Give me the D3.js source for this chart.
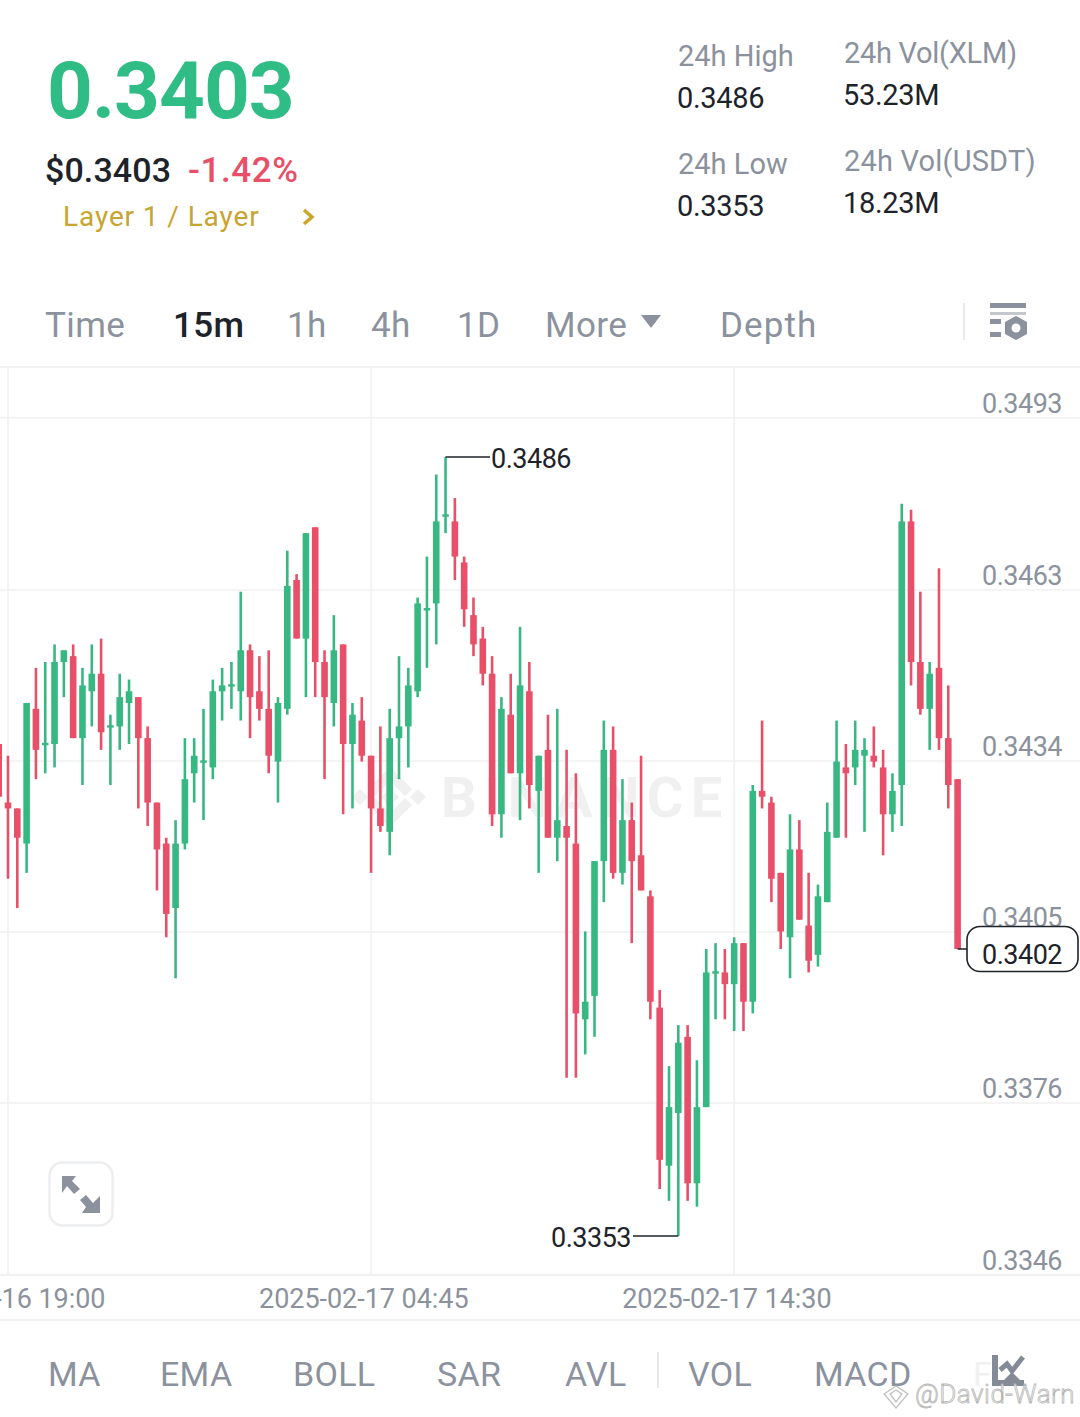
<!DOCTYPE html>
<html>
<head>
<meta charset="utf-8">
<script src="https://cdn.jsdelivr.net/npm/d3@7/dist/d3.min.js"></script>
<style>
html,body{margin:0;padding:0;background:#fff;}
svg{display:block;}
text{font-family:Roboto,"Noto Sans",sans-serif;}
</style>
</head>
<body>
<div id="chart"></div>
<script>
// candle values, oldest first
const opens = [.3437,.3427,.3426,.3420,.3443,.3437,.3437,.3451,.3452,.3438,.3446,.3449,.3440,.3440,.3444,.3445,.3438,.3427,.3420,.3409,.3420,.3432,.3434,.3433,.3446,.3447,.3446,.3453,.3446,.3443,.3434,.3443,.3465,.3455,.3474,.3451,.3444,.3454,.3437,.3441,.3435,.3426,.3422,.3438,.3440,.3446,.3460,.3461,.3476,.3475,.3468,.3459,.3455,.3449,.3425,.3442,.3432,.3446,.3429,.3436,.3421,.3423,.3420,.3390,.3394,.3417,.3436,.3415,.3424,.3418,.3411,.3392,.3365,.3374,.3387,.3362,.3375,.3398,.3398,.3396,.3403,.3393,.3429,.3427,.3415,.3404,.3419,.3406,.3401,.3410,.3421,.3433,.3433,.3435,.3435,.3433,.3425,.3430,.3475,.3451,.3443,.3450,.3438,.3431];
const highs = [.3442,.3435,.3426,.3444,.3450,.3451,.3454,.3453,.3454,.3450,.3454,.3455,.3442,.3449,.3448,.3445,.3440,.3427,.3421,.3424,.3438,.3438,.3443,.3448,.3450,.3451,.3463,.3454,.3452,.3453,.3445,.3470,.3466,.3473,.3474,.3453,.3459,.3454,.3444,.3445,.3435,.3440,.3443,.3452,.3450,.3462,.3469,.3483,.3486,.3479,.3469,.3462,.3457,.3452,.3445,.3449,.3457,.3451,.3435,.3442,.3443,.3436,.3432,.3405,.3417,.3441,.3440,.3431,.3427,.3435,.3412,.3395,.3382,.3389,.3389,.3383,.3402,.3403,.3402,.3404,.3403,.3430,.3441,.3428,.3415,.3425,.3424,.3415,.3413,.3427,.3441,.3437,.3441,.3438,.3440,.3436,.3432,.3478,.3477,.3463,.3451,.3467,.3447,.3431];
const lows = [.3422,.3414,.3409,.3415,.3431,.3432,.3433,.3445,.3438,.3430,.3440,.3436,.3430,.3436,.3437,.3426,.3423,.3412,.3404,.3397,.3419,.3427,.3424,.3431,.3441,.3443,.3441,.3438,.3441,.3432,.3427,.3442,.3455,.3445,.3445,.3431,.3440,.3425,.3426,.3434,.3415,.3422,.3418,.3431,.3433,.3445,.3450,.3454,.3473,.3465,.3457,.3452,.3447,.3423,.3421,.3432,.3424,.3426,.3415,.3421,.3417,.3380,.3380,.3384,.3387,.3410,.3414,.3413,.3403,.3412,.3390,.3361,.3359,.3353,.3359,.3358,.3375,.3390,.3390,.3388,.3388,.3391,.3426,.3410,.3402,.3397,.3407,.3398,.3399,.3410,.3421,.3421,.3430,.3422,.3433,.3418,.3422,.3423,.3447,.3442,.3436,.3436,.3426,.3402];
const closes = [.3428,.3426,.3421,.3444,.3436,.3437,.3451,.3453,.3438,.3447,.3449,.3439,.3440,.3445,.3446,.3438,.3427,.3419,.3408,.3420,.3431,.3435,.3434,.3446,.3447,.3447,.3453,.3445,.3443,.3435,.3444,.3464,.3455,.3473,.3451,.3445,.3453,.3437,.3442,.3435,.3426,.3423,.3438,.3440,.3447,.3461,.3460,.3475,.3476,.3469,.3460,.3454,.3449,.3425,.3443,.3432,.3447,.3430,.3435,.3421,.3424,.3421,.3391,.3393,.3417,.3436,.3415,.3424,.3417,.3412,.3393,.3366,.3375,.3386,.3362,.3375,.3398,.3398,.3396,.3403,.3393,.3429,.3428,.3414,.3405,.3419,.3407,.3400,.3411,.3422,.3434,.3432,.3436,.3436,.3434,.3425,.3429,.3475,.3451,.3443,.3449,.3438,.3430,.3402];
const rising = [0,0,0,1,0,1,1,1,0,1,1,0,1,1,1,0,0,0,0,1,1,1,1,1,1,1,1,0,0,0,1,1,0,1,0,0,1,0,1,0,0,0,1,1,1,1,1,1,1,0,0,0,0,0,1,0,1,0,1,0,1,0,0,1,1,1,0,1,0,0,0,0,1,1,0,1,1,1,0,1,0,1,0,0,0,1,0,0,1,1,1,0,1,1,0,0,1,1,0,0,1,0,0,0];

const priceTicks = [.34927,.34633,.34341,.34049,.33757,.33464];
const timeTicks = [1,40,79];
const timeLabels = ["2025-02-16 19:00","2025-02-17 04:45","2025-02-17 14:30"];
const indicatorTabs = ["MA","EMA","BOLL","SAR","AVL","VOL","MACD"];
const indicatorX = [48,160,293,437,565,688,814];
const periodTabs = ["Time","15m","1h","4h","1D","More","Depth"];
const periodX = [45,173,287,371,457,545,720];
const stats = [
 {k:"24h High",v:"0.3486",x:678,a:66,b:108},
 {k:"24h Vol(XLM)",v:"53.23M",x:844,a:63,b:105},
 {k:"24h Low",v:"0.3353",x:678,a:174,b:216},
 {k:"24h Vol(USDT)",v:"18.23M",x:844,a:171,b:213}
];
const lastTick = "0.3402", highMark = .3486, lowMark = .3353, highIdx = 48, lowIdx = 73, lastPrice = .3402;

const GREEN="#37b883", RED="#e84f68", GRID="#f1f1f2", MUTED="#8b929d", DARK="#1e2329";

const svg = d3.select("#chart").append("svg").attr("width",1080).attr("height",1417).attr("viewBox","0 0 1080 1417");
const x = d3.scaleLinear().domain([1,103]).range([8,957.6]);
const y = d3.scaleLinear().domain([.3486,.3353]).range([457,1236]);
const T = (s,px,py,size,fill,weight,ls)=>svg.append("text").attr("x",px).attr("y",py).attr("font-size",size).attr("fill",fill).attr("font-weight",weight||400).attr("letter-spacing",ls||0).text(s);

// header
T("0.3403",47,118,80,"#2fbd85",700,-1);
T("$0.3403",45,182,34,DARK,500,0.1);
T("-1.42%",188,182,35,RED,500,0.6);
T("Layer 1 / Layer",63,226,28,"#c9a42f",400,0.9);
svg.append("path").attr("d","M304 210 L312 217 L304 224").attr("fill","none").attr("stroke","#cca52c").attr("stroke-width",3.5);
stats.forEach(s=>{T(s.k,s.x,s.a,29,MUTED,400,s.k.includes("XLM")?-0.3:s.k.includes("USDT")?0.2:0);T(s.v,s.x-1,s.b,29,DARK,400,-0.3);});

// period tabs
periodTabs.forEach((s,i)=>T(s,periodX[i],337,35,s==="15m"?DARK:MUTED,s==="15m"?500:400,s==="Depth"?1.1:s==="15m"?0.3:0.4));
svg.append("path").attr("d","M641 315 H661 L651 328 Z").attr("fill","#8b929d");
svg.append("line").attr("x1",964).attr("x2",964).attr("y1",303).attr("y2",340).attr("stroke","#e8e9eb").attr("stroke-width",2);
const gear = svg.append("g").attr("fill","#8b929d");
gear.append("rect").attr("x",990).attr("y",303).attr("width",36).attr("height",5);
gear.append("rect").attr("x",990).attr("y",312).attr("width",36).attr("height",3).attr("fill","#c4c8ce");
gear.append("rect").attr("x",990).attr("y",319).attr("width",11).attr("height",5);
gear.append("rect").attr("x",990).attr("y",332).attr("width",11).attr("height",5);
gear.append("path").attr("d","M1016 316 L1027 322 V334 L1016 340 L1005 334 V322 Z");
gear.append("circle").attr("cx",1016).attr("cy",328).attr("r",4.5).attr("fill","#fff");

// frame and grid
const grid = svg.append("g").attr("stroke",GRID).attr("stroke-width",2);
[367,1275,1320].forEach(v=>grid.append("line").attr("x1",0).attr("x2",1080).attr("y1",v).attr("y2",v));
svg.append("g").selectAll("line").data(priceTicks).join("line")
 .attr("x1",0).attr("x2",1080).attr("y1",d=>y(d)).attr("y2",d=>y(d)).attr("stroke",GRID).attr("stroke-width",1.6);
svg.append("g").selectAll("line").data(timeTicks).join("line")
 .attr("x1",d=>x(d)).attr("x2",d=>x(d)).attr("y1",367).attr("y2",1275).attr("stroke",GRID).attr("stroke-width",1.6);

// watermark
const wm = svg.append("g").attr("fill","#f0f0f1");
wm.append("text").attr("x",441).attr("y",817).attr("font-size",56).attr("font-weight",700).attr("letter-spacing",7.3).text("BINANCE");
wm.append("path").attr("d","M390 767 L412 789 L405 796 L390 781 L375 796 L368 789 Z M390 827 L412 805 L405 798 L390 813 L375 798 L368 805 Z M352 797 L360 789 L368 797 L360 805 Z M410 797 L418 789 L426 797 L418 805 Z M390 788 L399 797 L390 806 L381 797 Z");

// candles
const idx = d3.range(opens.length);
const c = svg.append("g");
c.selectAll("line").data(idx).join("line")
 .attr("x1",i=>x(i)).attr("x2",i=>x(i)).attr("y1",i=>y(highs[i])).attr("y2",i=>y(lows[i]))
 .attr("stroke",i=>rising[i]?GREEN:RED).attr("stroke-width",2.6);
c.selectAll("rect").data(idx).join("rect")
 .attr("x",i=>x(i)-3.3).attr("width",6.6)
 .attr("y",i=>y(Math.max(opens[i],closes[i]))-(opens[i]===closes[i]?1.2:0))
 .attr("height",i=>Math.max(2.4,Math.abs(y(opens[i])-y(closes[i]))))
 .attr("fill",i=>rising[i]?GREEN:RED);

// high and low callouts
svg.append("line").attr("x1",x(highIdx)).attr("x2",490).attr("y1",y(highMark)).attr("y2",y(highMark)).attr("stroke",DARK).attr("stroke-width",1.5);
T("0.3486",491,y(highMark)+11,27,DARK,400,-0.5);
svg.append("line").attr("x1",633).attr("x2",x(lowIdx)).attr("y1",y(lowMark)).attr("y2",y(lowMark)).attr("stroke",DARK).attr("stroke-width",1.5);
T("0.3353",551,y(lowMark)+11,27,DARK,400,-0.5);

// price axis
priceTicks.forEach(d=>T(d.toFixed(4),982,y(d)-5,27,MUTED,400,-0.5));

// last price tag
svg.append("line").attr("x1",x(103)).attr("x2",968).attr("y1",y(lastPrice)).attr("y2",y(lastPrice)).attr("stroke",DARK).attr("stroke-width",1.5);
svg.append("rect").attr("x",967).attr("y",926.5).attr("width",111).attr("height",45).attr("rx",13).attr("fill","#fff").attr("stroke",DARK).attr("stroke-width",1.6);
T(lastTick,982,964,27,DARK,400,-0.5);

// time axis
timeTicks.forEach((d,i)=>T(timeLabels[i],x(d)-112,1308,27,MUTED,400,-0.05));

// expand button
svg.append("rect").attr("x",49.5).attr("y",1162.5).attr("width",63).attr("height",63).attr("rx",13).attr("fill","#fff").attr("stroke","#edeeef").attr("stroke-width",2.5);
svg.append("path").attr("fill","#8b929d").attr("d","M62 1176 H76 L72 1181 L80 1189 L74 1194 L67 1186 L62 1193 Z M100 1213 H82 L86 1207 L80 1200 L86 1195 L93 1203 L100 1196 Z");

// indicator tabs
indicatorTabs.forEach((s,i)=>T(s,indicatorX[i],1386,34,MUTED,400,0.3));
svg.append("line").attr("x1",658).attr("x2",658).attr("y1",1352).attr("y2",1388).attr("stroke","#e8e9eb").attr("stroke-width",2);
T("F",973,1386,34,"#f1f1f2");
svg.append("path").attr("d","M995 1355 V1383 H1024").attr("fill","none").attr("stroke","#858b96").attr("stroke-width",6);
svg.append("path").attr("d","M1000 1370 L1007 1364 L1012 1371 L1023 1357").attr("fill","none").attr("stroke","#858b96").attr("stroke-width",5);
svg.append("path").attr("d","M1004 1380 L1020 1380 L1012 1372 Z").attr("fill","#858b96");

// photo credit
svg.append("text").attr("x",915).attr("y",1403).attr("font-size",26).attr("font-weight",300).attr("letter-spacing",0.5).attr("fill","#fff").attr("stroke","#b5b5b5").attr("stroke-width",.8).text("@David-Warn");
svg.append("path").attr("d","M884 1394 L896 1386 L908 1394 L896 1408 Z M890 1394 L896 1390 L902 1394 L896 1402 Z").attr("fill","none").attr("stroke","#c0c0c0").attr("stroke-width",1.3);
</script>
</body>
</html>
